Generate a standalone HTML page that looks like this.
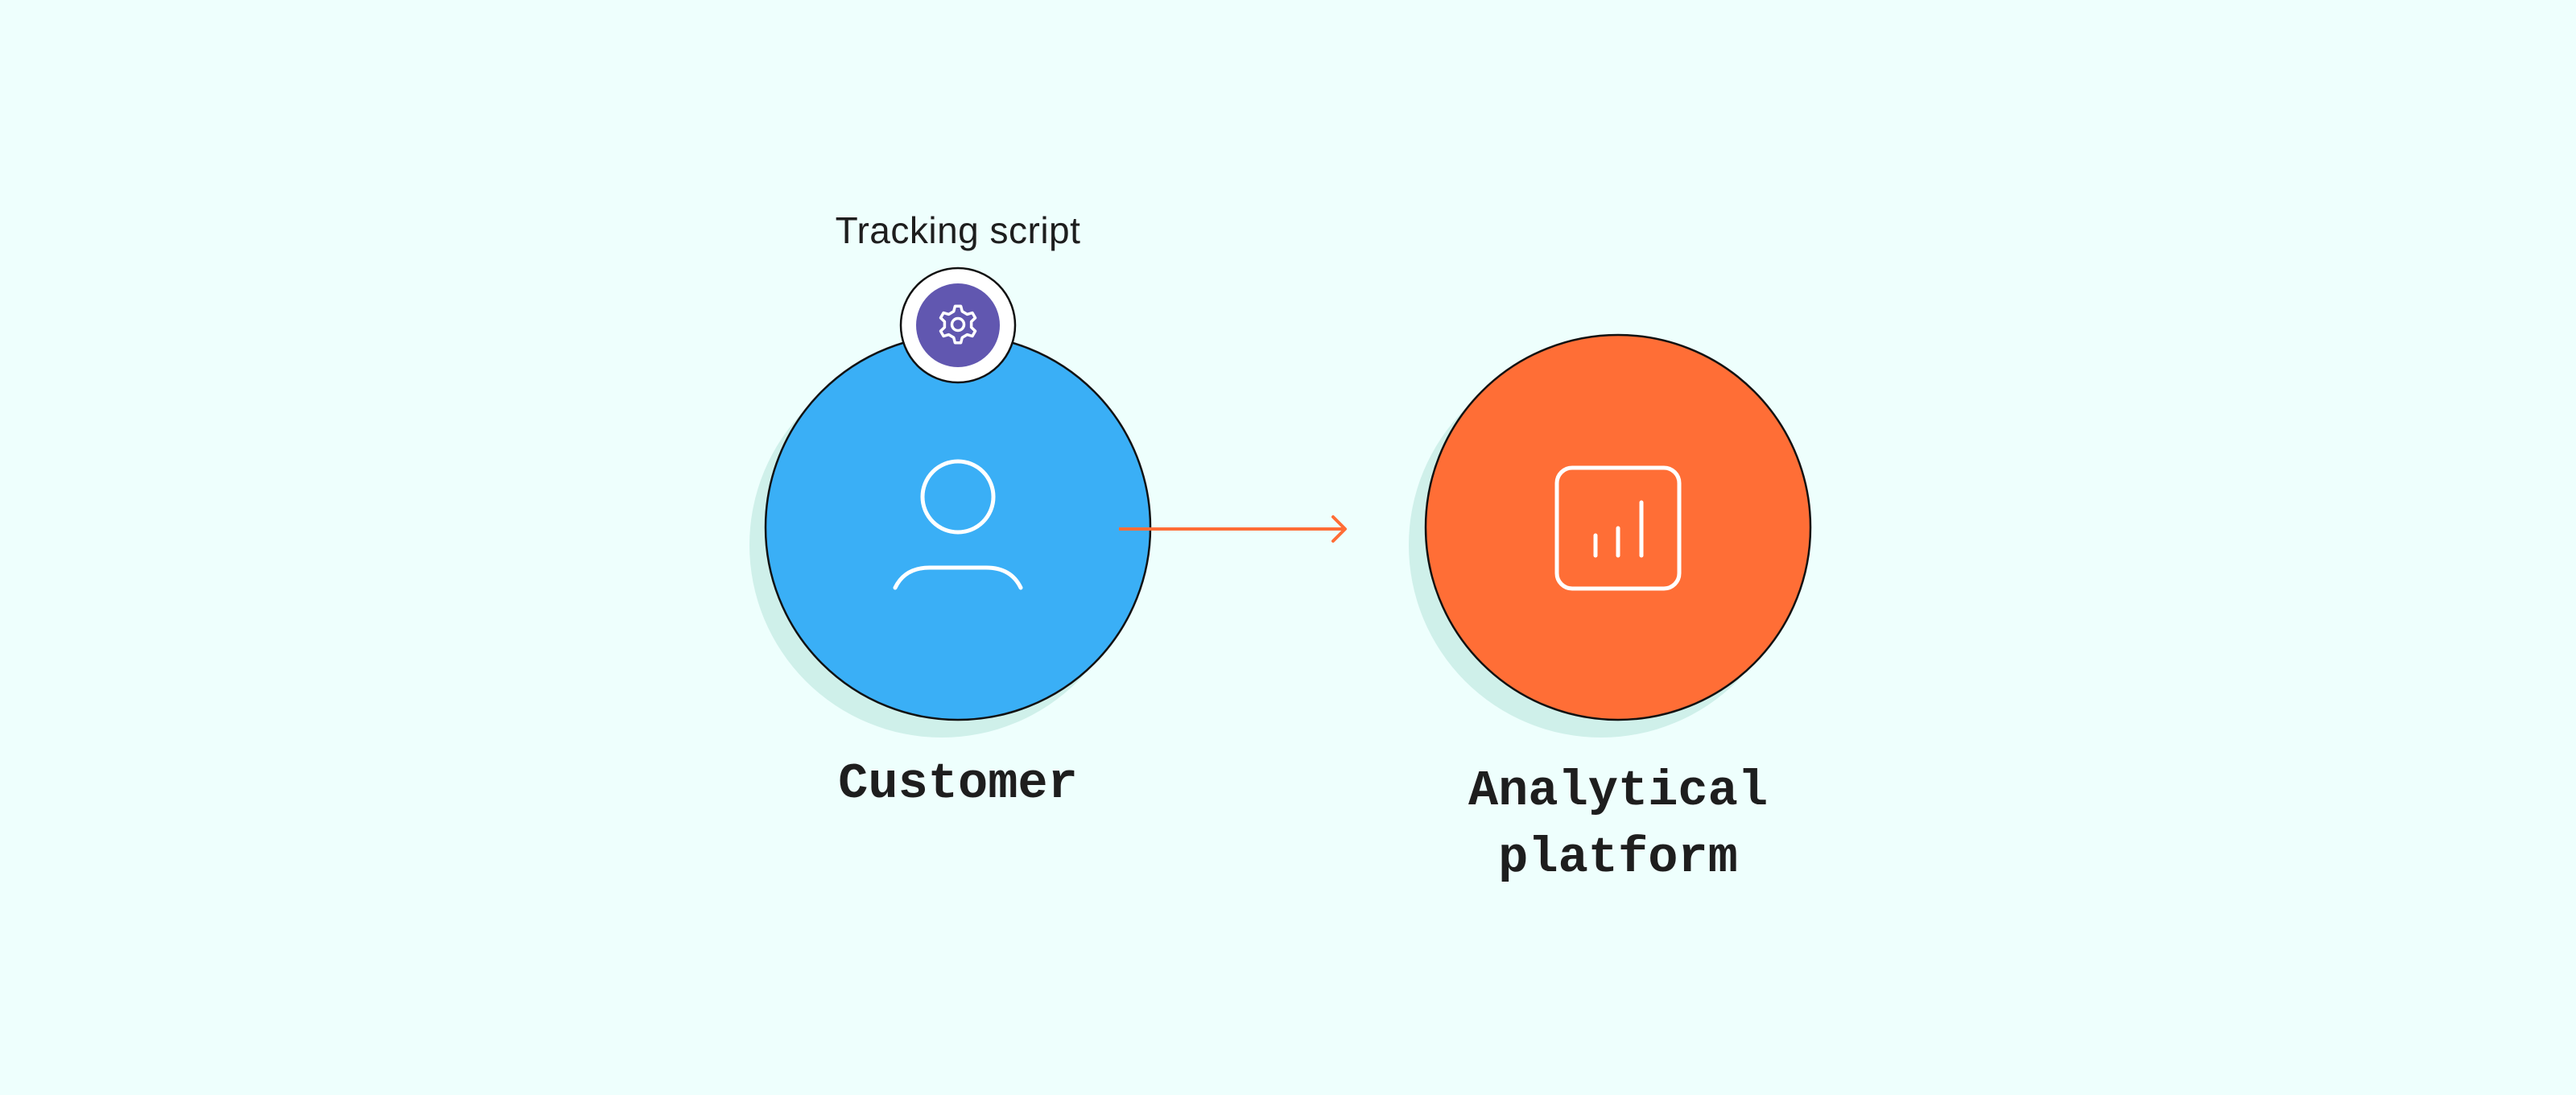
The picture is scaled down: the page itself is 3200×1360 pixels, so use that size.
<!DOCTYPE html>
<html><head><meta charset="utf-8"><style>
html,body{margin:0;padding:0;background:#EEFFFD;}
svg{display:block}
</style></head><body>
<svg width="3200" height="1360" viewBox="0 0 3200 1360" xmlns="http://www.w3.org/2000/svg">
<rect width="3200" height="1360" fill="#EEFFFD"/>
<!-- shadows -->
<circle cx="1170" cy="677" r="239" fill="#CFF0EA"/>
<circle cx="1989" cy="677" r="239" fill="#CFF0EA"/>
<!-- customer -->
<circle cx="1190" cy="655" r="239" fill="#3AAFF6" stroke="#111" stroke-width="2.5"/>
<circle cx="1190" cy="617" r="44" fill="none" stroke="#fff" stroke-width="5"/>
<path d="M1112 730 Q1124 705 1155 705 L1225 705 Q1256 705 1268 730" fill="none" stroke="#fff" stroke-width="5" stroke-linecap="round"/>
<!-- badge -->
<circle cx="1190" cy="404" r="71" fill="#fff" stroke="#111" stroke-width="2.5"/>
<circle cx="1190" cy="404" r="52" fill="#6157B0"/>
<g transform="translate(1190,403)" fill="none" stroke="#fff" stroke-width="3.5" stroke-linejoin="round">
<polygon points="-3.6,-22.7 3.6,-22.7 5.3,-16.2 11.4,-12.6 17.9,-14.5 21.5,-8.2 16.6,-3.5 16.6,3.5 21.5,8.2 17.9,14.5 11.4,12.6 5.3,16.2 3.6,22.7 -3.6,22.7 -5.3,16.2 -11.4,12.6 -17.9,14.5 -21.5,8.2 -16.6,3.5 -16.6,-3.5 -21.5,-8.2 -17.9,-14.5 -11.4,-12.6 -5.3,-16.2"/>
<circle cx="0" cy="0" r="7.5"/>
</g>
<text x="1190" y="302" text-anchor="middle" font-family="Liberation Sans, sans-serif" font-size="46" letter-spacing="0.5" fill="#1E1E1E">Tracking script</text>
<!-- arrow -->
<line x1="1390" y1="657" x2="1669" y2="657" stroke="#FF6D36" stroke-width="4"/>
<path d="M1656 642 L1671 657 L1656 672" fill="none" stroke="#FF6D36" stroke-width="4" stroke-linecap="round" stroke-linejoin="round"/>
<!-- analytical -->
<circle cx="2010" cy="655" r="239" fill="#FF6E36" stroke="#111" stroke-width="2.5"/>
<rect x="1934" y="581" width="152" height="150" rx="19" fill="none" stroke="#fff" stroke-width="5"/>
<g stroke="#fff" stroke-width="5" stroke-linecap="round">
<line x1="1982" y1="665" x2="1982" y2="690"/>
<line x1="2010" y1="656" x2="2010" y2="690"/>
<line x1="2039" y1="624" x2="2039" y2="690"/>
</g>
<g font-family="Liberation Mono, monospace" font-weight="bold" font-size="62" fill="#1E1E1E" text-anchor="middle">
<text x="1190" y="990">Customer</text>
<text x="2010" y="999">Analytical</text>
<text x="2010" y="1082">platform</text>
</g>
</svg>
</body></html>
